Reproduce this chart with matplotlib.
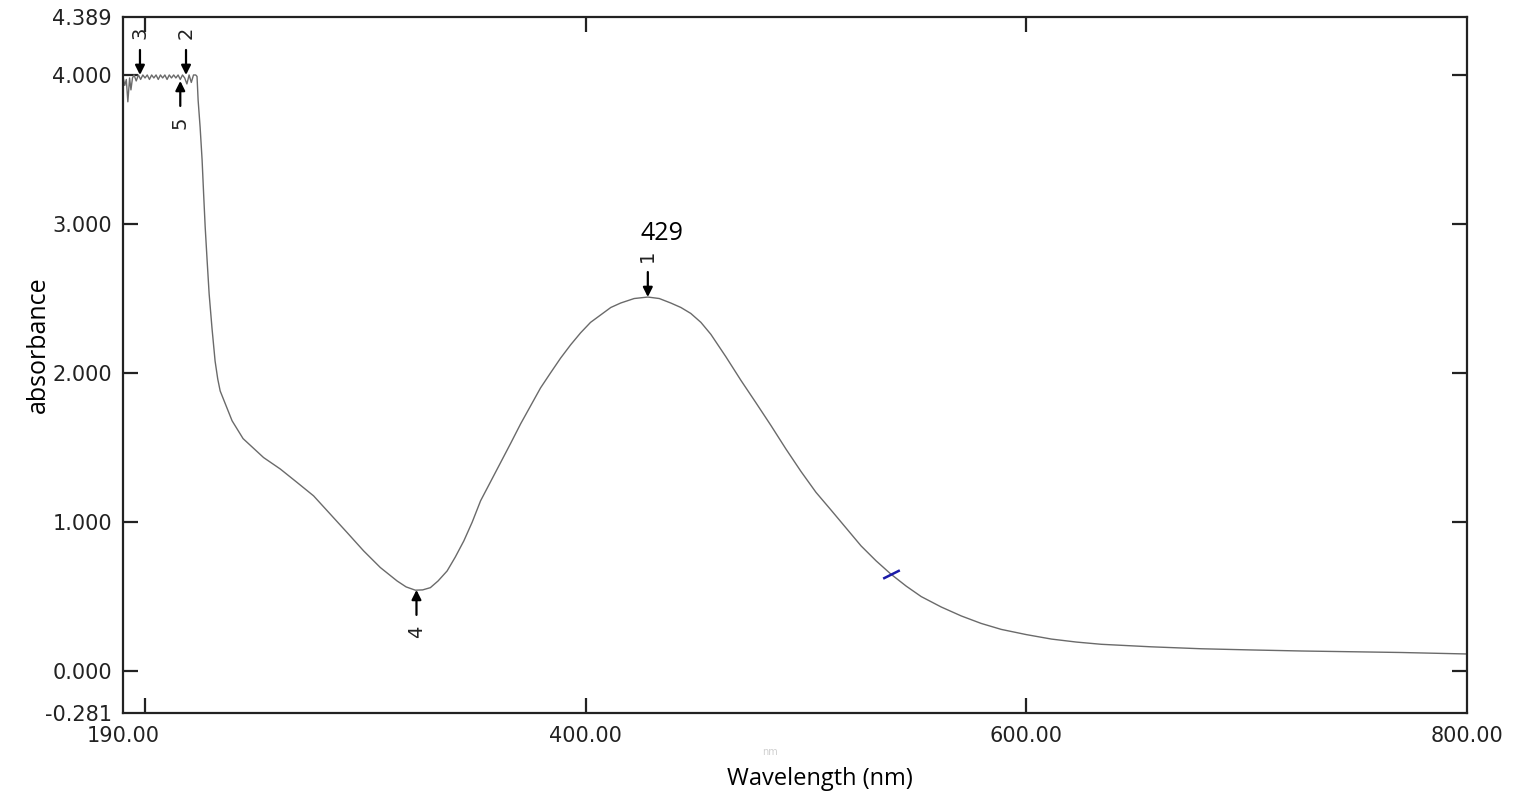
import matplotlib
matplotlib.use("Agg")
import matplotlib.pyplot as plt
import numpy as np

# ---- data ----
wavelength_nm = [190, 190.8, 191.5, 192.2, 193, 193.6, 194.3, 195, 196, 197, 198, 199, 200,
                 201, 202, 203, 204, 205, 206, 207, 208, 209, 210, 211, 212, 213, 214, 215,
                 216, 217, 218, 219, 220, 221, 222, 223, 223.6,
                 224.1, 225.0, 225.9, 226.6, 227.3, 228.2, 229.1, 230.4, 231.8, 233.0, 234.1,
                 236.8, 239.5, 244.5, 253.8, 261.4, 269.0, 276.5, 284.1, 291.7, 299.2, 306.8,
                 314.4, 318.5, 322.7, 326.0, 329.5, 333.0, 337.1, 340.8, 344.7, 348.5, 352.3,
                 356.8, 361.4, 366.0, 370.5, 375.0, 379.5, 384.0, 388.6, 393.2, 397.7, 402.2,
                 406.8, 411.4, 415.9, 422.0, 428.2, 433.4, 438.6, 443.2, 447.7, 452.3, 456.8,
                 463.6, 470.5, 477.3, 484.0, 490.9, 497.7, 504.5, 511.4, 518.2, 525.0, 531.8,
                 538.6, 545.5, 552.3, 561.4, 570.5, 579.5, 588.6, 600.0, 611.4, 622.7, 634.0,
                 656.8, 679.5, 702.3, 725.0, 747.7, 770.0, 785.0, 800.0]
absorbance = [3.99, 3.93, 3.97, 3.82, 3.98, 3.90, 3.98, 4.00, 3.96, 4.00, 3.97, 4.00, 3.98,
              4.00, 3.97, 4.00, 3.98, 4.00, 3.97, 4.00, 3.98, 4.00, 3.97, 4.00, 3.98, 4.00, 3.98, 4.00,
              3.97, 4.00, 3.98, 3.94, 4.00, 3.95, 4.00, 4.00, 3.99,
              3.83, 3.65, 3.43, 3.20, 2.98, 2.75, 2.53, 2.30, 2.08, 1.96, 1.88,
              1.78, 1.68, 1.56, 1.433, 1.356, 1.266, 1.176, 1.053, 0.930, 0.807, 0.695,
              0.605, 0.565, 0.543, 0.545, 0.560, 0.605, 0.672, 0.765, 0.874, 1.00, 1.143,
              1.27, 1.40, 1.53, 1.66, 1.78, 1.90, 2.00, 2.10, 2.19, 2.27, 2.34,
              2.39, 2.44, 2.47, 2.50, 2.51, 2.50, 2.47, 2.44, 2.40, 2.34, 2.26,
              2.11, 1.95, 1.80, 1.65, 1.49, 1.34, 1.20, 1.08, 0.96, 0.84, 0.74,
              0.65, 0.57, 0.50, 0.43, 0.37, 0.32, 0.28, 0.245, 0.215, 0.195, 0.18,
              0.163, 0.15, 0.142, 0.135, 0.13, 0.125, 0.12, 0.115]

peak_labels = ["1", "2", "3", "4", "5"]
peak_nm = [428.2, 218.6, 197.7, 323.2, 216.0]
peak_abs = [2.51, 4.00, 4.00, 0.545, 3.96]
peak_dir = ["down", "down", "down", "up", "up"]
peak_value_text = "429"

marker_nm = 538.6
marker_abs = 0.65

x_tick_pos = [190, 200, 400, 600, 800]
x_tick_labels = ["190.00", "", "400.00", "600.00", "800.00"]
y_tick_pos = [-0.281, 0.0, 1.0, 2.0, 3.0, 4.0, 4.389]
y_tick_labels = ["-0.281", "0.000", "1.000", "2.000", "3.000", "4.000", "4.389"]

# ---- figure ----
fig = plt.figure(figsize=(15.34, 7.93), dpi=100)
ax = fig.add_axes([123 / 1534, 1 - 713 / 793, (1467 - 123) / 1534, (713 - 17) / 793])

ax.plot(wavelength_nm, absorbance, color="#6a6a6a", lw=1.0)
ax.set_xlim(190, 800)
ax.set_ylim(-0.281, 4.389)

for s in ax.spines.values():
    s.set_linewidth(1.6)
    s.set_color("#222222")

tick_font = dict(family="DejaVu Sans", size=15)
ax.set_xticks(x_tick_pos)
ax.set_xticklabels(x_tick_labels, **tick_font, color="#222222")
ax.set_yticks(y_tick_pos)
ax.set_yticklabels(y_tick_labels, **tick_font, color="#222222")
ax.tick_params(axis="both", direction="in", length=11, width=1.6, color="#222222",
               top=True, right=True)
ax.tick_params(axis="x", pad=9)
ax.tick_params(axis="y", pad=8)
# hide tick marks at the axis limits
for i, t in enumerate(ax.xaxis.get_major_ticks()):
    if x_tick_pos[i] in (190, 800):
        t.tick1line.set_visible(False)
        t.tick2line.set_visible(False)
for i, t in enumerate(ax.yaxis.get_major_ticks()):
    if y_tick_pos[i] in (-0.281, 4.389):
        t.tick1line.set_visible(False)
        t.tick2line.set_visible(False)

# peak arrows and rotated numbers
for lab, x, y, d in zip(peak_labels, peak_nm, peak_abs, peak_dir):
    sign = 1 if d == "down" else -1
    ax.annotate("", xy=(x, y), xycoords="data",
                xytext=(0, sign * 18), textcoords="offset points",
                arrowprops=dict(arrowstyle="-|>", color="black", lw=1.6,
                                mutation_scale=14, shrinkA=0, shrinkB=0))
    ax.annotate(lab, xy=(x, y), xycoords="data",
                xytext=(0, sign * 30), textcoords="offset points",
                rotation=90, ha="center", va="center",
                fontsize=14, family="DejaVu Sans", color="#222222")

ax.annotate(peak_value_text, xy=(peak_nm[0], peak_abs[0]), xycoords="data",
            xytext=(10, 46), textcoords="offset points", ha="center", va="center",
            fontsize=18, family="Open Sans", color="black")

# small blue marker on the curve
ax.plot([marker_nm], [marker_abs], marker=[(-1, -0.5), (1, 0.5)], markersize=12,
        markeredgecolor="#1a1aa8", markeredgewidth=1.8, markerfacecolor="none",
        linestyle="none")

# axis labels
fig.text(38 / 1534, 1 - 345 / 793, "absorbance", rotation=90, ha="center", va="center",
         fontsize=18, family="Open Sans", color="black")
fig.text(820 / 1534, 2 / 793, "Wavelength (nm)", ha="center", va="bottom",
         fontsize=17, family="Open Sans", color="black")
fig.text(770 / 1534, 1 - 752 / 793, "nm", ha="center", va="center",
         fontsize=7, family="DejaVu Sans", color="#d0d0d0")

fig.savefig("out.png", dpi=100)
